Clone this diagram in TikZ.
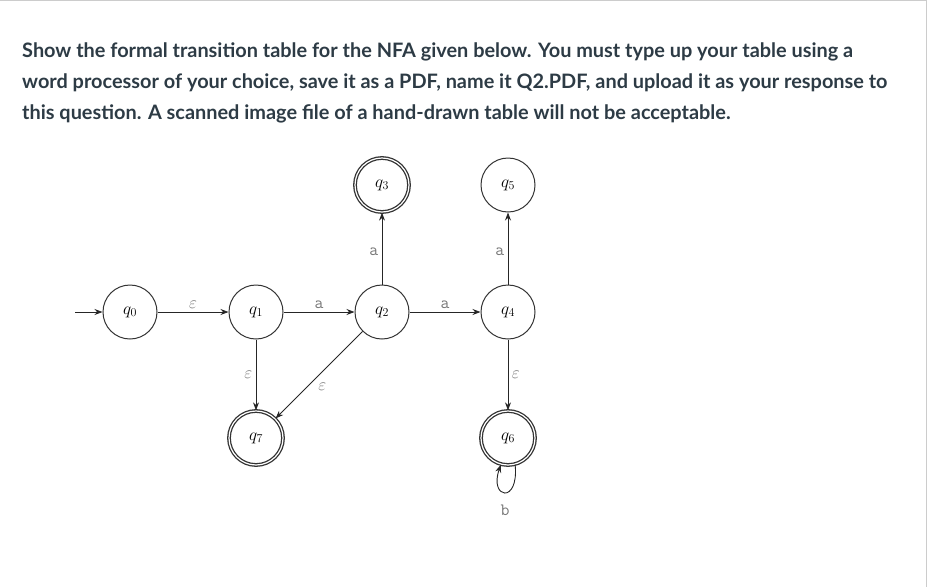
\documentclass[tikz,border=0pt]{standalone}
\usepackage{fontspec}
\newfontfamily\lato{Lato}
\usetikzlibrary{arrows.meta}
\definecolor{txt}{HTML}{2D3B45}
\definecolor{lbl}{HTML}{777777}
\begin{document}
\begin{tikzpicture}[x=1pt,y=-1pt,
  st/.style={circle,draw=black!80,line width=1pt,minimum size=54pt,inner sep=0pt,font=\LARGE},
  acc/.style={st,double,double distance=1.2pt,line width=1.3pt},
  tr/.style={-{Stealth[length=8pt,width=6pt]},line width=0.9pt,draw=black!85},
  lb/.style={text=lbl,font=\LARGE},
  q/.style={anchor=base west,text=txt,font=\lato\bfseries\fontsize{19.9}{23}\selectfont,inner sep=0pt}]
\useasboundingbox (0,0) rectangle (930,587);
\draw[gray!40] (0,0.5) -- (926.5,0.5) -- (926.5,587);
\node[q] (l1) at (22,57) {Show the formal transition table for the NFA given below. You must type up your table using a};
\node[q] (l2) at (22,88) {word processor of your choice, save it as a PDF, name it Q2.PDF, and upload it as your response to};
\node[q] (l3) at (22,119) {this question. A scanned image file of a hand-drawn table will not be acceptable.};
\node[st] (q0) at (130,312) {$q_0$};
\node[st] (q1) at (256,312) {$q_1$};
\node[st] (q2) at (382,312) {$q_2$};
\node[st] (q4) at (508,312) {$q_4$};
\node[acc] (q3) at (382,185) {$q_3$};
\node[st] (q5) at (508,185) {$q_5$};
\node[acc] (q7) at (256,438) {$q_7$};
\node[acc] (q6) at (508,438) {$q_6$};
\coordinate (s) at (75,312);
\draw[tr] (s) -- (q0);
\draw[tr] (q0) -- node[lb,above]{$\varepsilon$} (q1);
\draw[tr] (q1) -- node[lb,above]{\texttt{a}} (q2);
\draw[tr] (q2) -- node[lb,above]{\texttt{a}} (q4);
\draw[tr] (q2) -- node[lb,left,pos=0.45]{\texttt{a}} (q3);
\draw[tr] (q4) -- node[lb,left,pos=0.45]{\texttt{a}} (q5);
\draw[tr] (q1) -- node[lb,left]{$\varepsilon$} (q7);
\draw[tr] (q4) -- node[lb,right]{$\varepsilon$} (q6);
\draw[tr] (q2) -- node[lb,below right,pos=0.55]{$\varepsilon$} (q7);
\draw[tr] (q6.-75) .. controls +(4,40) and +(-12,34) .. node[lb,below=9pt]{\texttt{b}} (q6.-105);
\end{tikzpicture}
\end{document}
